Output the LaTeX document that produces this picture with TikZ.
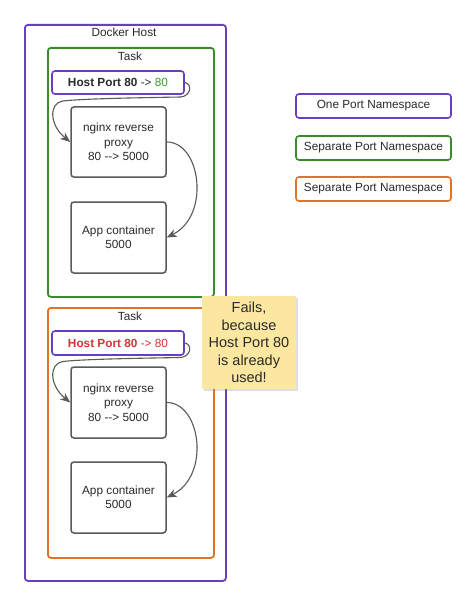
\documentclass[tikz,border=0pt]{standalone}
\usepackage{fontspec}
\setmainfont{Liberation Sans}[Ligatures=TeXOff]
\usetikzlibrary{arrows.meta,shadows,calc}
\definecolor{hostpurple}{HTML}{6A3FBF}
\definecolor{taskgreen}{HTML}{3C8A2E}
\definecolor{taskorange}{HTML}{E0722A}
\definecolor{boxgray}{HTML}{5A5A5A}
\definecolor{failred}{HTML}{D63333}
\definecolor{portgreen}{HTML}{3E9A2C}
\definecolor{sticky}{HTML}{FCE7A1}
\definecolor{txt}{HTML}{2A2A2A}
\tikzset{
  frame/.style={draw, rounded corners=3pt, line width=1.8pt, inner sep=0pt, anchor=north west},
  hostbox/.style={frame, draw=hostpurple},
  greenbox/.style={frame, draw=taskgreen},
  orangebox/.style={frame, draw=taskorange},
  portbox/.style={frame, draw=hostpurple, line width=1.6pt, text=txt, font=\fontsize{11.8}{14}\selectfont, anchor=center},
  cbox/.style={draw=boxgray, rounded corners=3pt, line width=1.5pt, text=txt, align=center, font=\fontsize{11.8}{14.4}\selectfont, inner sep=0pt},
  lbl/.style={text=txt, font=\fontsize{11.8}{14}\selectfont, inner sep=0pt},
  legend/.style={draw, rounded corners=3pt, line width=1.6pt, text=txt, font=\fontsize{11.8}{14}\selectfont, minimum width=155pt, minimum height=24pt, inner sep=0pt},
  conn/.style={draw=boxgray, line width=1.1pt, -{Stealth[length=10pt,width=8pt,inset=3pt]}},
}
\begin{document}
\begin{tikzpicture}[x=1pt,y=-1pt]
\useasboundingbox[fill=white] (0,0) rectangle (474,604);
% Docker host
\node[hostbox, minimum width=201pt, minimum height=556pt] (host) at (24,24) {};
\node[lbl] (hostlbl) at (124,32) {Docker Host};
% Task 1
\node[greenbox, minimum width=166pt, minimum height=249pt] (task1) at (47,47) {};
\node[lbl] (task1lbl) at (130,56) {Task};
\node[portbox, minimum width=132pt, minimum height=23pt] (port1) at (118,82.5) {\textbf{Host Port 80} -> \textcolor{portgreen}{80}};
\node[cbox, minimum width=95pt, minimum height=70pt] (nginx1) at (118.5,142) {nginx reverse\\proxy\\80 --> 5000};
\node[cbox, minimum width=95pt, minimum height=71pt] (app1) at (118.5,237.5) {App container\\5000};
% Task 2
\node[orangebox, minimum width=166pt, minimum height=250pt] (task2) at (47,307) {};
\node[lbl] (task2lbl) at (130,316) {Task};
\node[portbox, minimum width=132pt, minimum height=24pt] (port2) at (118,343) {\textcolor{failred}{\textbf{Host Port 80} -> 80}};
\node[cbox, minimum width=95pt, minimum height=71pt] (nginx2) at (118.5,402.5) {nginx reverse\\proxy\\80 --> 5000};
\node[cbox, minimum width=95pt, minimum height=71pt] (app2) at (118.5,497.5) {App container\\5000};
% sticky note
\node[fill=sticky, minimum width=94pt, minimum height=93pt, inner sep=0pt, align=center, text=txt,
  font=\fontsize{14.5}{17.5}\selectfont,
  drop shadow={shadow xshift=2pt, shadow yshift=-2pt, opacity=0.25}] (note) at (249,342.5)
  {Fails,\\because\\Host Port 80\\is already\\used!};
% legend
\node[legend, draw=hostpurple] (leg1) at (373.5,106) {One Port Namespace};
\node[legend, draw=taskgreen] (leg2) at (373.5,148) {Separate Port Namespace};
\node[legend, draw=taskorange] (leg3) at (373.5,189) {Separate Port Namespace};
% connectors
\foreach \p/\n/\a in {port1/nginx1/app1, port2/nginx2/app2}{
  \draw[conn] (\p.east) .. controls +(8,1.5) and +(10,-1) .. ($(\p.east)+(-4,14.5)$)
    .. controls ($(\p.east)+(-64,15.5)$) and ($(\p.east)+(-104,16.5)$) .. ($(\p.east)+(-122,18.5)$)
    .. controls +(-14,2) and +(-21,-17) .. (\n.west);
  \draw[conn] (\n.east) .. controls +(34,0) and +(44,-22) .. (\a.east);
}
\end{tikzpicture}
\end{document}
